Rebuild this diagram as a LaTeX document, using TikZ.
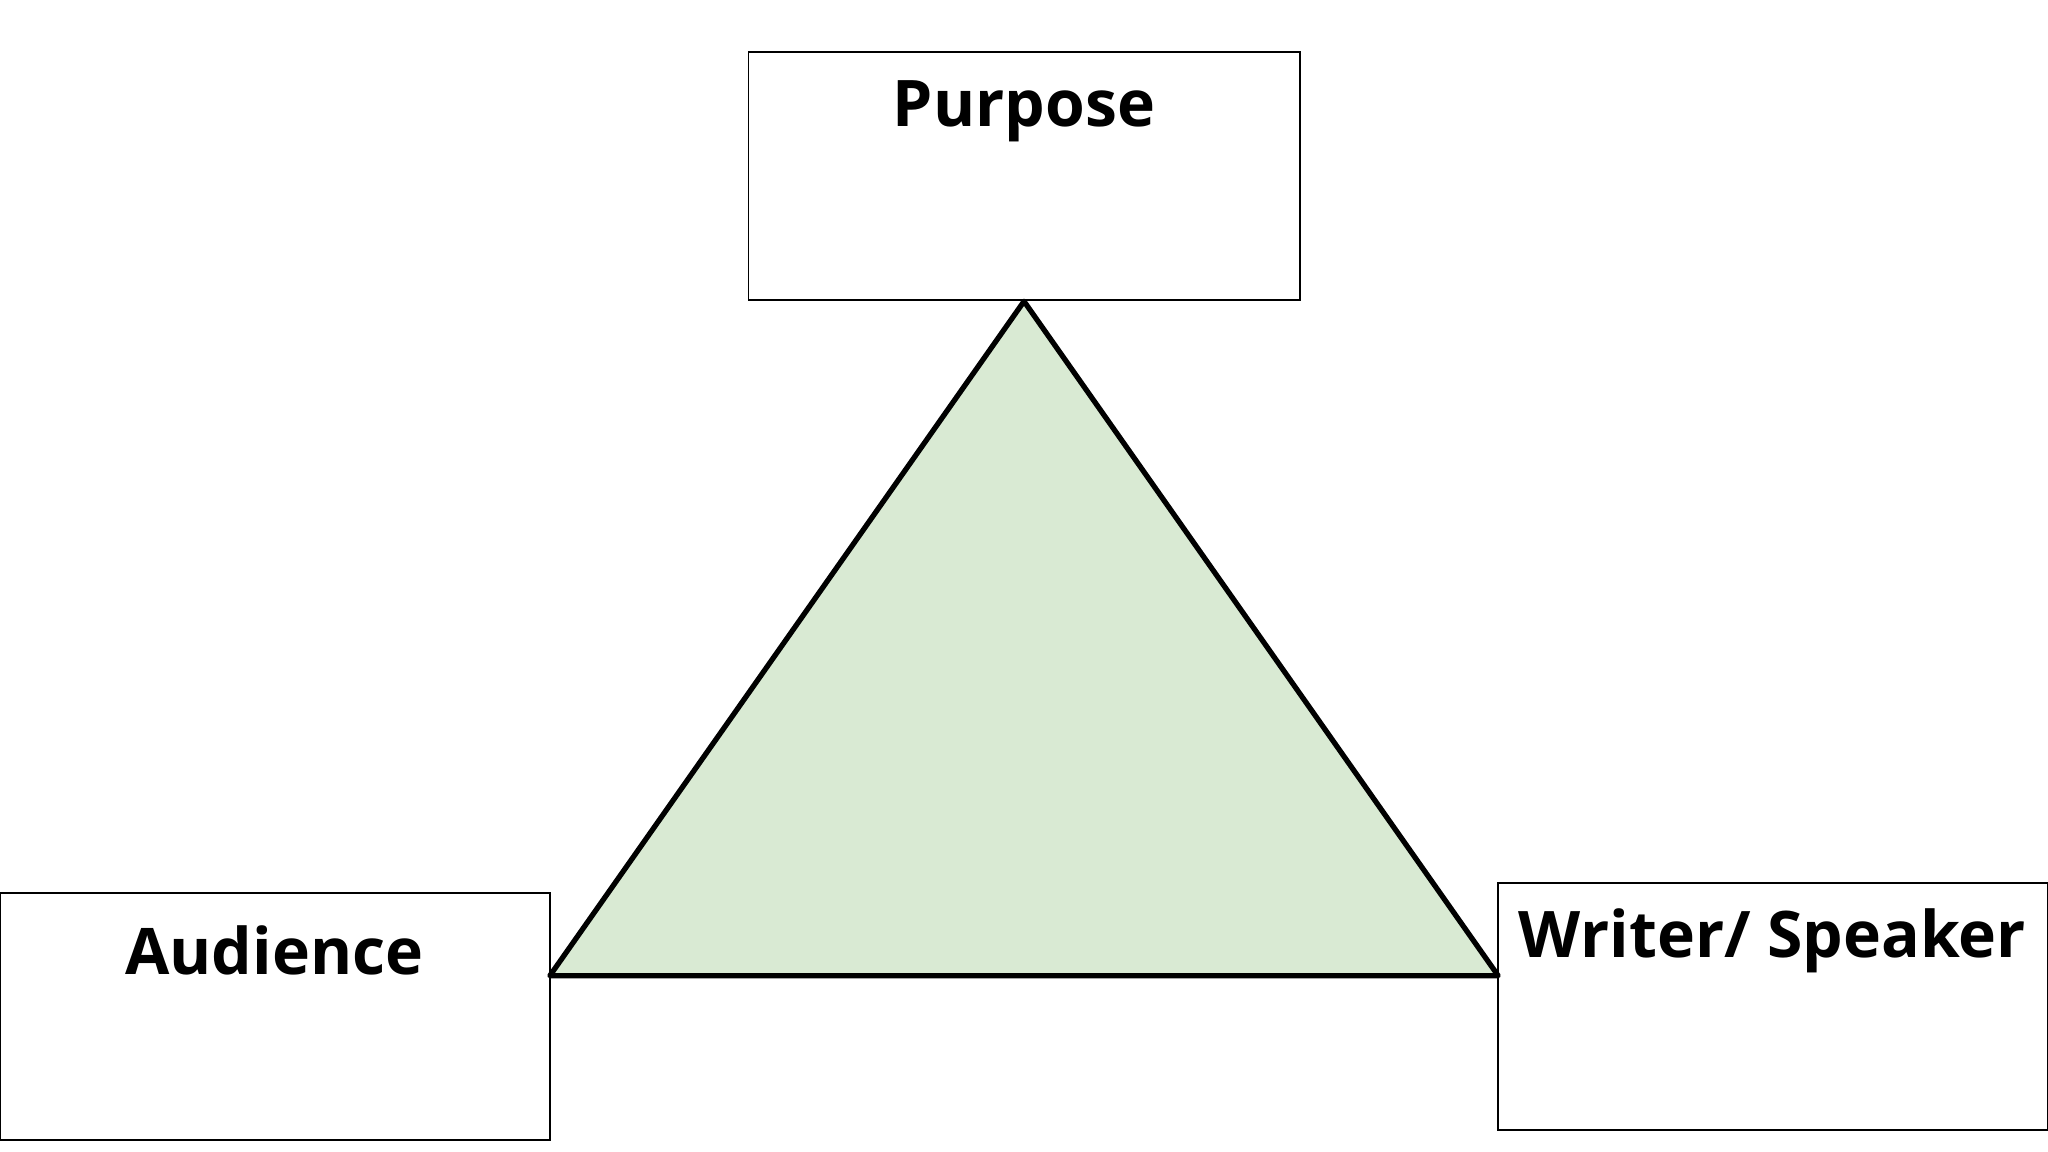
\documentclass[tikz,border=0pt]{standalone}
\usepackage{fontspec}
\setmainfont{Open Sans}
\definecolor{trifill}{HTML}{D9EAD3}
\begin{document}
\begin{tikzpicture}[x=0.02cm,y=0.02cm,
    labelbox/.style={draw, line width=0.8pt, inner sep=0pt},
    boxtext/.style={font=\fontsize{28}{34}\selectfont\bfseries}]
        \useasboundingbox (0,0) rectangle (1568,882);
        
        % boxes
        \node[labelbox, minimum width=422*0.02cm, minimum height=190*0.02cm] (purpose) at (784,747) {};
        \node[labelbox, minimum width=421*0.02cm, minimum height=189*0.02cm] (audience) at (210.5,103.5) {};
        \node[labelbox, minimum width=421*0.02cm, minimum height=189*0.02cm] (writer) at (1357.5,111.5) {};
        
        % texts
        \node[boxtext] (purposetext) at (784,797) {Purpose};
        \node[boxtext] (audiencetext) at (210,154) {Audience};
        \node[boxtext] (writertext) at (1357,162) {Writer/ Speaker};
        
        % triangle
        \coordinate (apex) at (purpose.south);
        \coordinate (left) at (421,135);
        \coordinate (right) at (1147,135);
        \draw[fill=trifill, line width=2.3pt, line join=round] (apex) -- (left) -- (right) -- cycle;
\end{tikzpicture}
\end{document}
